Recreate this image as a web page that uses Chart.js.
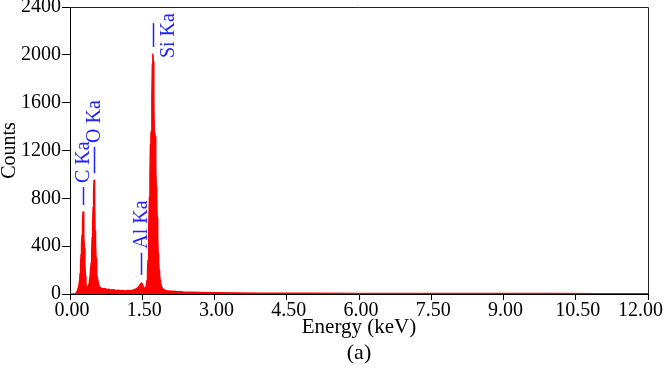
<!DOCTYPE html>
<html>
<head>
<meta charset="utf-8">
<title>EDS spectrum (a)</title>
<script src="https://cdn.jsdelivr.net/npm/chart.js@4.4.1/dist/chart.umd.min.js"></script>
<style>
    html, body { margin: 0; padding: 0; background: #ffffff; }
</style>
</head>
<body>
<canvas id="eds-chart" width="665" height="382"></canvas>
<script>
// EDS spectrum, panel (a): counts per energy channel, peaks tagged with their line name.

// ---------------------------------------------------------------------------
// Data
// ---------------------------------------------------------------------------
const energyKeV = [
    0.00, 0.10, 0.12, 0.14, 0.16, 0.18, 0.20, 0.21, 0.22, 0.23,
    0.24, 0.25, 0.26, 0.27, 0.28, 0.29, 0.30, 0.31, 0.32, 0.33,
    0.34, 0.36, 0.38, 0.40, 0.42, 0.44, 0.45, 0.46, 0.47, 0.48,
    0.49, 0.50, 0.51, 0.52, 0.53, 0.54, 0.55, 0.56, 0.58, 0.60,
    0.62, 0.65, 0.68, 0.72, 0.76, 0.80, 0.85, 0.90, 0.95, 1.00,
    1.05, 1.10, 1.15, 1.20, 1.25, 1.30, 1.35, 1.40, 1.43, 1.46,
    1.48, 1.50, 1.52, 1.54, 1.56, 1.58, 1.60, 1.61, 1.62, 1.63,
    1.64, 1.65, 1.66, 1.67, 1.68, 1.69, 1.70, 1.71, 1.72, 1.73,
    1.74, 1.75, 1.76, 1.77, 1.78, 1.79, 1.80, 1.81, 1.82, 1.83,
    1.84, 1.85, 1.86, 1.88, 1.90, 1.93, 1.96, 2.00, 2.10, 2.20,
    2.35, 2.50, 2.70, 3.00, 3.50, 4.00, 5.00, 6.00, 7.00, 8.00,
    9.00, 10.00, 11.00, 12.00
];
const counts = [
    0, 0, 4, 15, 35, 60, 110, 170, 250, 330,
    420, 490, 560, 690, 650, 490, 380, 250, 150, 95,
    70, 55, 60, 90, 160, 260, 340, 470, 560, 720,
    850, 955, 780, 530, 420, 300, 220, 160, 110, 75,
    55, 48, 42, 45, 38, 40, 34, 36, 30, 32,
    28, 30, 26, 30, 27, 32, 38, 50, 62, 80,
    92, 85, 62, 50, 48, 60, 110, 190, 280, 360,
    560, 810, 980, 1250, 1340, 1360, 1650, 1920, 2010, 1940,
    1600, 1350, 1340, 1320, 1050, 900, 810, 640, 480, 340,
    260, 200, 150, 95, 60, 42, 35, 28, 24, 20,
    16, 14, 12, 10, 8, 7, 6, 5, 5, 4,
    4, 4, 3, 3
];

// Peak identification marks
const peakNames  = ["C Ka", "O Ka", "Al Ka", "Si Ka"];
const peakEnergy = [0.276, 0.504, 1.468, 1.729];
const markFrom   = [745, 1010, 160, 2065];   // counts at lower end of tag line
const markTo     = [895, 1230, 345, 2265];   // counts at upper end of tag line

// Axis ticks
const xTickValues = [0, 1.5, 3, 4.5, 6, 7.5, 9, 10.5, 12];
const yTickValues = [0, 400, 800, 1200, 1600, 2000, 2400];

const SERIF = "'Liberation Serif', 'Times New Roman', serif";
const SPECTRUM_RED = "#ff0000";
const TAG_BLUE = "#2323ff";

// ---------------------------------------------------------------------------
// Extra drawing: plot frame, x tick labels, peak tags, panel caption
// ---------------------------------------------------------------------------
const edsExtras = {
    id: "edsExtras",
    afterDraw(chart) {
        const { ctx, chartArea: area, scales } = chart;
        const xs = scales.x;
        const ys = scales.y;
        ctx.save();

        // top and right edges of the frame
        ctx.strokeStyle = "#222";
        ctx.lineWidth = 1;
        ctx.beginPath();
        ctx.moveTo(area.left, area.top + 0.5);
        ctx.lineTo(area.right + 0.5, area.top + 0.5);
        ctx.lineTo(area.right + 0.5, area.bottom);
        ctx.stroke();

        // x tick labels, last one kept inside the canvas
        ctx.font = "20px " + SERIF;
        ctx.fillStyle = "#000";
        ctx.textAlign = "center";
        ctx.textBaseline = "alphabetic";
        xs.ticks.forEach((t) => {
            const label = t.value.toFixed(2);
            const w = ctx.measureText(label).width;
            let px = xs.getPixelForValue(t.value) + 2;
            px = Math.min(px, chart.width - w / 2 - 2);
            ctx.fillText(label, px, area.bottom + 22);
        });

        // peak tags: short vertical line with the name above it (or beside it near the top)
        ctx.strokeStyle = TAG_BLUE;
        ctx.fillStyle = TAG_BLUE;
        ctx.lineWidth = 1.5;
        peakNames.forEach((name, i) => {
            const px = Math.round(xs.getPixelForValue(peakEnergy[i])) + 0.5;
            const yLo = ys.getPixelForValue(markFrom[i]);
            const yHi = ys.getPixelForValue(markTo[i]);
            ctx.beginPath();
            ctx.moveTo(px, yLo);
            ctx.lineTo(px, yHi);
            ctx.stroke();

            const w = ctx.measureText(name).width;
            let tx = px;
            let ty = yHi - 4;
            if (ty - w < area.top) {
                tx = px + 15;
                ty = yLo + 11;
            }
            ctx.save();
            ctx.translate(tx, ty);
            ctx.rotate(-Math.PI / 2);
            ctx.textAlign = "left";
            ctx.textBaseline = "middle";
            ctx.fillText(name, 0, 0);
            ctx.restore();
        });

        // panel caption
        ctx.font = "22px " + SERIF;
        ctx.fillStyle = "#000";
        ctx.textAlign = "center";
        ctx.textBaseline = "middle";
        ctx.fillText("(a)", (area.left + area.right) / 2, 353);

        ctx.restore();
    },
};

// ---------------------------------------------------------------------------
// Chart
// ---------------------------------------------------------------------------
const points = energyKeV.map((e, i) => ({ x: e, y: counts[i] }));

new Chart(document.getElementById("eds-chart").getContext("2d"), {
    type: "line",
    data: {
        datasets: [
            {
                label: "Counts",
                data: points,
                borderColor: SPECTRUM_RED,
                backgroundColor: SPECTRUM_RED,
                borderWidth: 1.5,
                fill: "origin",
                pointRadius: 0,
                tension: 0,
            },
        ],
    },
    options: {
        responsive: false,
        animation: false,
        layout: { padding: { left: 0, right: 17, top: 7, bottom: 0 } },
        plugins: {
            legend: { display: false },
            tooltip: { enabled: false },
        },
        scales: {
            x: {
                type: "linear",
                min: 0,
                max: 12,
                afterBuildTicks: (s) => { s.ticks = xTickValues.map((v) => ({ value: v })); },
                ticks: { display: false },
                grid: { drawOnChartArea: false, drawTicks: true, tickLength: 6, tickColor: "#000" },
                border: { display: true, color: "#000", width: 1 },
                title: {
                    display: true,
                    text: "Energy (keV)",
                    color: "#000",
                    font: { family: SERIF, size: 21, lineHeight: 1.2 },
                    padding: { top: 0, bottom: 42 },
                },
                afterFit: (s) => { s.height = 88; s.paddingLeft = 0; s.paddingRight = 0; },
            },
            y: {
                type: "linear",
                min: 0,
                max: 2400,
                afterBuildTicks: (s) => { s.ticks = yTickValues.map((v) => ({ value: v })); },
                ticks: {
                    color: "#000",
                    font: { family: SERIF, size: 20 },
                    padding: 1,
                    callback: (v) => String(v),
                },
                grid: { drawOnChartArea: false, drawTicks: true, tickLength: 8, tickColor: "#000" },
                border: { display: true, color: "#000", width: 1 },
                title: {
                    display: true,
                    text: "Counts",
                    color: "#000",
                    font: { family: SERIF, size: 20, lineHeight: 1 },
                    padding: 0,
                },
                afterFit: (s) => { s.width = 70; s.paddingTop = 0; s.paddingBottom = 0; },
            },
        },
    },
    plugins: [edsExtras],
});
</script>
</body>
</html>
